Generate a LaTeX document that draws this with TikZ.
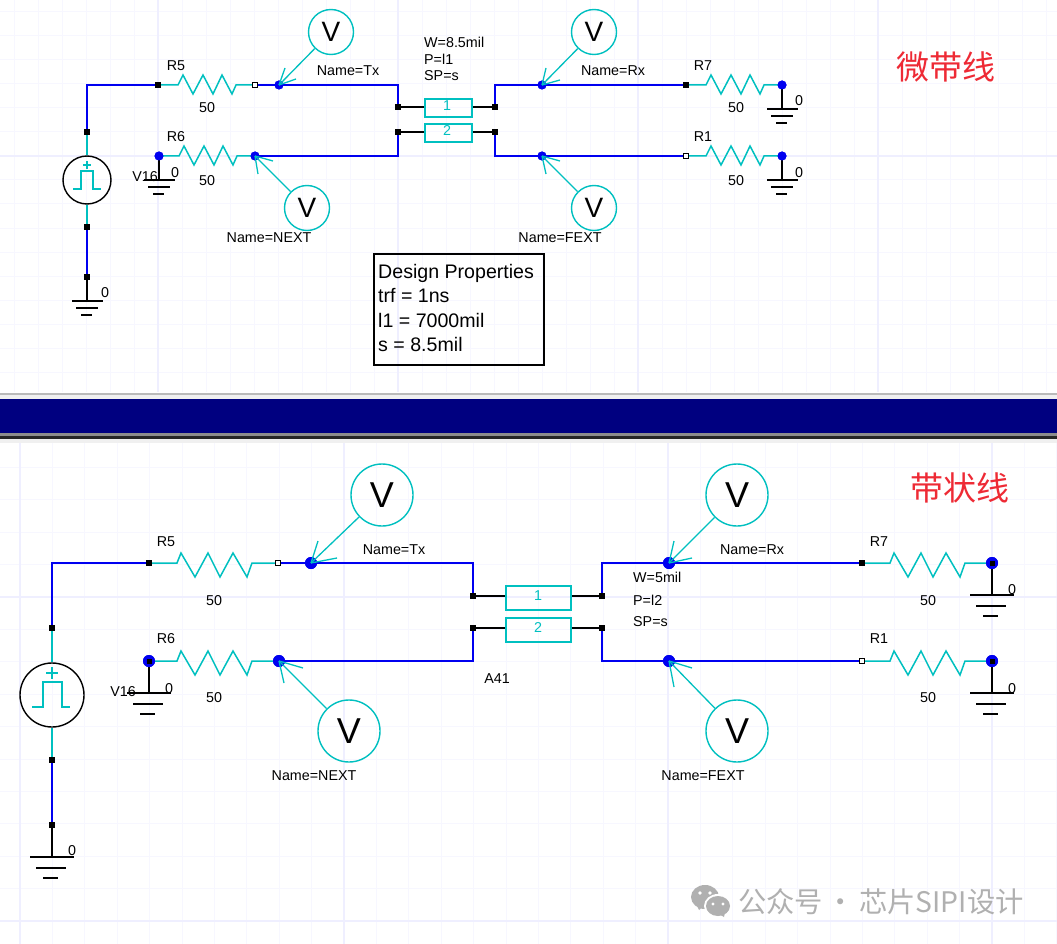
\documentclass[tikz,border=0pt]{standalone}
\usepackage{fontspec}
\setmainfont{Liberation Sans}
\newfontfamily\cjk{Noto Sans CJK SC}
\definecolor{gmin}{HTML}{F7F7FF}
\definecolor{gmaj}{HTML}{EFEFFF}
\definecolor{cyn}{HTML}{00C0C0}
\definecolor{wblue}{HTML}{0000F0}
\definecolor{navybar}{HTML}{000080}
\definecolor{redtxt}{HTML}{EE2A35}
\definecolor{wm}{HTML}{B0B0B0}
\tikzset{
  x=1pt,y=-1pt,
  bw/.style={draw=wblue,line width=2pt,line join=miter},
  cw/.style={draw=cyn,line width=1.5pt,line join=miter},
  kw/.style={draw=black,line width=1.5pt},
  pinb/.style={rectangle,fill=black,inner sep=0pt,minimum size=6pt},
  pinw/.style={rectangle,fill=white,draw=black,line width=1.2pt,inner sep=0pt,minimum size=6pt},
  dotb/.style={circle,fill=wblue,inner sep=0pt,minimum size=9pt},
  dotB/.style={circle,fill=wblue,inner sep=0pt,minimum size=12pt},
  vt/.style={circle,draw=cyn,line width=1.4pt,inner sep=0pt,minimum size=45pt,font=\fontsize{28}{30}\selectfont},
  vB/.style={circle,draw=cyn,line width=1.4pt,inner sep=0pt,minimum size=62pt,font=\fontsize{36}{38}\selectfont},
  src/.style={circle,draw=black,line width=1.4pt,inner sep=0pt},
  lab/.style={inner sep=0pt,font=\fontsize{14.3}{15}\selectfont},
  labl/.style={lab,anchor=west},
  numb/.style={inner sep=0pt,text=cyn,font=\fontsize{14.3}{15}\selectfont},
  tl/.style={rectangle,draw=cyn,line width=2pt,inner sep=0pt},
  red/.style={inner sep=0pt,text=redtxt,font=\cjk\fontsize{33}{35}\selectfont},
}
\newcommand{\zigT}[2]{\draw[cw] (#1.center) -- ++(20,0) -- ++(5,-10) -- ++(10,19) -- ++(10,-19) -- ++(10,19) -- ++(9,-19) -- ++(10,19) -- ++(4,-9) -- (#2.center);}
\newcommand{\zigB}[2]{\draw[cw] (#1.center) -- ++(28,0) -- ++(4,-10) -- ++(14,24) -- ++(13,-24) -- ++(12,24) -- ++(13,-24) -- ++(14,24) -- ++(5,-14) -- (#2.center);}
\newcommand{\gndT}[1]{\draw[kw] (#1.center) -- ++(0,24) ++(-15,0) -- ++(31,0) ++(-27,7) -- ++(22,0) ++(-17,7) -- ++(11,0);}
\newcommand{\gndB}[1]{\draw[kw] (#1.center) -- ++(0,32) ++(-22,0) -- ++(44,0) ++(-38,11) -- ++(30,0) ++(-23,10) -- ++(15,0);}
\newcommand{\barbs}[5]{\draw[cyn,line width=1.3pt] (#1.center) -- ++(#2,#3) (#1.center) -- ++(#4,#5);}
\newcommand{\stub}[2]{\draw[kw] (#1.center) -- (#1.center -| #2);}
\begin{document}
\begin{tikzpicture}
\useasboundingbox (0,0) rectangle (1057,944);
\fill[white] (0,0) rectangle (1057,944);
% grids
\foreach \i in {0,...,43}{\draw[gmin,line width=1pt] ({14+24*\i},0) -- ({14+24*\i},392);}
\foreach \i in {0,...,15}{\draw[gmin,line width=1pt] (0,{12+24*\i}) -- (1057,{12+24*\i});}
\foreach \xx in {158,398,638,878}{\draw[gmaj,line width=1.2pt] (\xx,0) -- (\xx,392);}
\draw[gmaj,line width=1.2pt] (0,156) -- (1057,156);
\foreach \i in {0,...,32}{\draw[gmin,line width=1pt] ({20+32.4*\i},443) -- ({20+32.4*\i},944);}
\foreach \i in {-4,...,10}{\draw[gmin,line width=1pt] (0,{597+32.4*\i}) -- (1057,{597+32.4*\i});}
\foreach \xx in {20,344,668,992}{\draw[gmaj,line width=1.2pt] (\xx,443) -- (\xx,944);}
\foreach \yy in {597,921}{\draw[gmaj,line width=1.2pt] (0,\yy) -- (1057,\yy);}
% divider
\fill[black!27] (0,393) rectangle (1057,395);
\fill[black!6] (0,395) rectangle (1057,399);
\fill[navybar] (0,399) rectangle (1057,433);
\fill[black!45] (0,433) rectangle (1057,436);
\fill[black!85] (0,436) rectangle (1057,439);
\fill[black!6] (0,439) rectangle (1057,443);

% ===== top circuit =====
\node[src,minimum size=48pt] (tS) at (87,180) {};
\node[pinb] (tSa) at (87,132) {};
\node[pinb] (tSb) at (87,227) {};
\node[pinb] (tG) at (87,277) {};
\coordinate (tCa) at (398,85);
\node[pinb] (tR5a) at (158,85) {};
\node[pinw,minimum size=5pt] (tR5b) at (255,85) {};
\node[dotb] (tTx) at (279,85) {};
\node[pinb] (tL1a) at (398,107) {};
\node[pinb] (tL1b) at (495,107) {};
\node[pinb] (tL2a) at (398,132) {};
\node[pinb] (tL2b) at (495,132) {};
\node[dotb] (tRx) at (542,85) {};
\node[pinb] (tR7a) at (686,85) {};
\node[dotb] (tR7b) at (782,85) {};
\node[dotb] (tR6a) at (159,156) {};
\node[dotb] (tR6b) at (255,156) {};
\node[dotb] (tFx) at (542,156) {};
\node[pinw,minimum size=5pt] (tR1a) at (686,156) {};
\node[dotb] (tR1b) at (782,156) {};
\node[tl,minimum width=47pt,minimum height=18pt,anchor=north west] (tB1) at (423.5,98) {};
\node[tl,minimum width=47pt,minimum height=18pt,anchor=north west] (tB2) at (423.5,123) {};
\node[numb] (tn1) at (447,106) {1};
\node[numb] (tn2) at (447,131) {2};
\draw[cw] (tSa.center) -- (tS);
\draw[cw] (tSb.center) -- (tS);
\draw[bw] (tSa.center) |- (tR5a.center);
\draw[bw] (tSb.center) -- (tG.center);
\zigT{tR5a}{tR5b}
\draw[bw] (tR5b.center) -- (tCa) -- (tL1a.center);
\zigT{tR6a}{tR6b}
\draw[bw] (tR6b.center) -| (tL2a.center);
\draw[bw] (tL1b.center) |- (tR7a.center);
\draw[bw] (tL2b.center) |- (tR1a.center);
\zigT{tR7a}{tR7b}
\zigT{tR1a}{tR1b}
\stub{tL1a}{tB1.west}
\stub{tL1b}{tB1.east}
\stub{tL2a}{tB2.west}
\stub{tL2b}{tB2.east}
\gndT{tG}
\gndT{tR6a}
\gndT{tR7b}
\gndT{tR1b}
\node[pinb] at (tSa) {};\node[pinb] at (tSb) {};\node[pinb] at (tG) {};
\node[pinb] at (tL1a) {};\node[pinb] at (tL1b) {};\node[pinb] at (tL2a) {};\node[pinb] at (tL2b) {};
\node[pinb] at (tR5a) {};\node[pinw,minimum size=5pt] at (tR5b) {};
\node[pinb] at (tR7a) {};\node[pinw,minimum size=5pt] at (tR1a) {};
\node[dotb] at (tR6a) {};\node[dotb] at (tR6b) {};\node[dotb] at (tTx) {};
\node[dotb] at (tRx) {};\node[dotb] at (tFx) {};\node[dotb] at (tR7b) {};\node[dotb] at (tR1b) {};
\draw[cyn,line width=1.4pt] plot coordinates {(73,189) (81,189) (81,171) (93,171) (93,189) (101,189)};
\draw[cyn,line width=1.4pt] (83,165) -- (91,165) (87,161) -- (87,169);
% top probes
\node[vt] (tV1) at (331,32) {V};
\node[vt] (tV2) at (307,208) {V};
\node[vt] (tV3) at (594,32) {V};
\node[vt] (tV4) at (594,208) {V};
\draw[cyn,line width=1.3pt] (tV1) -- (tTx.center);
\draw[cyn,line width=1.3pt] (tV2) -- (tR6b.center);
\draw[cyn,line width=1.3pt] (tV3) -- (tRx.center);
\draw[cyn,line width=1.3pt] (tV4) -- (tFx.center);
\barbs{tTx}{6}{-17}{17}{-6}
\barbs{tR6b}{3}{18}{18}{5}
\barbs{tRx}{4}{-17}{18}{-5}
\barbs{tFx}{4}{18}{18}{5}
% top labels
\node[lab] (tl1) at (176,66) {R5};
\node[lab] (tl2) at (207,108) {50};
\node[lab] (tl3) at (176,137) {R6};
\node[lab] (tl4) at (207,181) {50};
\node[lab] (tl5) at (348,71) {Name=Tx};
\node[lab] (tl6) at (269,238) {Name=NEXT};
\node[lab] (tl7) at (613,71) {Name=Rx};
\node[lab] (tl8) at (560,238) {Name=FEXT};
\node[lab] (tl9) at (703,66) {R7};
\node[lab] (tl10) at (736,108) {50};
\node[lab] (tl11) at (703,137) {R1};
\node[lab] (tl12) at (736,181) {50};
\node[labl] (tl13) at (424,42) {W=8.5mil};
\node[labl] (tl14) at (424,59) {P=l1};
\node[labl] (tl15) at (424,76) {SP=s};
\node[lab] (tl16) at (145,177) {V16};
\node[lab] (tl17) at (105,293) {0};
\node[lab] (tl18) at (175,173) {0};
\node[lab] (tl19) at (799,101) {0};
\node[lab] (tl20) at (799,173) {0};
\node[draw=black,line width=2pt,anchor=north west,minimum width=170pt,minimum height=111pt,inner sep=0pt] (tD) at (372.5,252.5) {};
\node[inner sep=0pt,anchor=west,font=\fontsize{19.6}{24.6}\selectfont,align=left] (tDt) at (378,308) {Design Properties\\trf = 1ns\\l1 = 7000mil\\s = 8.5mil};
\node[red] (tTitle) at (946,67) {微带线};

% ===== bottom circuit =====
\node[src,minimum size=64pt] (bS) at (52,695) {};
\node[pinb] (bSa) at (52,628) {};
\node[pinb] (bSb) at (52,760) {};
\node[pinb] (bG) at (52,825) {};
\coordinate (bCa) at (473,563);
\node[pinb] (bR5a) at (149,563) {};
\node[pinw,minimum size=5pt] (bR5b) at (278,563) {};
\node[dotB] (bTx) at (311,563) {};
\node[pinb] (bL1a) at (473,596) {};
\node[pinb] (bL1b) at (602,596) {};
\node[pinb] (bL2a) at (473,628) {};
\node[pinb] (bL2b) at (602,628) {};
\node[dotB] (bRx) at (669,563) {};
\node[pinb] (bR7a) at (862,563) {};
\node[dotB] (bR7b) at (992,563) {};
\node[dotB] (bR6a) at (149,661) {};
\node[dotB] (bR6b) at (279,661) {};
\node[dotB] (bFx) at (669,661) {};
\node[pinw,minimum size=5pt] (bR1a) at (862,661) {};
\node[dotB] (bR1b) at (992,661) {};
\node[tl,minimum width=65pt,minimum height=24pt,anchor=north west] (bB1) at (505,585) {};
\node[tl,minimum width=65pt,minimum height=24pt,anchor=north west] (bB2) at (505,617) {};
\node[numb] (bn1) at (538,596) {1};
\node[numb] (bn2) at (538,628) {2};
\draw[cw] (bSa.center) -- (bS);
\draw[cw] (bSb.center) -- (bS);
\draw[bw] (bSa.center) |- (bR5a.center);
\draw[bw] (bSb.center) -- (bG.center);
\zigB{bR5a}{bR5b}
\draw[bw] (bR5b.center) -- (bCa) -- (bL1a.center);
\zigB{bR6a}{bR6b}
\draw[bw] (bR6b.center) -| (bL2a.center);
\draw[bw] (bL1b.center) |- (bR7a.center);
\draw[bw] (bL2b.center) |- (bR1a.center);
\zigB{bR7a}{bR7b}
\zigB{bR1a}{bR1b}
\stub{bL1a}{bB1.west}
\stub{bL1b}{bB1.east}
\stub{bL2a}{bB2.west}
\stub{bL2b}{bB2.east}
\gndB{bG}
\gndB{bR6a}
\gndB{bR7b}
\gndB{bR1b}
\node[pinb] at (bSa) {};\node[pinb] at (bSb) {};\node[pinb] at (bG) {};
\node[pinb] at (bL1a) {};\node[pinb] at (bL1b) {};\node[pinb] at (bL2a) {};\node[pinb] at (bL2b) {};
\node[pinb] at (bR5a) {};\node[pinw,minimum size=5pt] at (bR5b) {};
\node[pinb] at (bR7a) {};\node[pinw,minimum size=5pt] at (bR1a) {};
\node[dotB] at (bR6a) {};\node[dotB] at (bR6b) {};\node[dotB] at (bTx) {};
\node[dotB] at (bRx) {};\node[dotB] at (bFx) {};\node[dotB] at (bR7b) {};\node[dotB] at (bR1b) {};
\node[pinb,minimum size=5pt] at (bR6a) {};
\node[pinb,minimum size=5pt] at (bR7b) {};
\node[pinb,minimum size=5pt] at (bR1b) {};
\draw[cyn,line width=1.5pt] plot coordinates {(32,707) (43,707) (43,682) (62,682) (62,707) (70,707)};
\draw[cyn,line width=1.5pt] (46,673) -- (58,673) (52,667) -- (52,679);
% bottom probes
\node[vB] (bV1) at (382,495) {V};
\node[vB] (bV2) at (349,731) {V};
\node[vB] (bV3) at (737,495) {V};
\node[vB] (bV4) at (737,731) {V};
\draw[cyn,line width=1.3pt] (bV1) -- (bTx.center);
\draw[cyn,line width=1.3pt] (bV2) -- (bR6b.center);
\draw[cyn,line width=1.3pt] (bV3) -- (bRx.center);
\draw[cyn,line width=1.3pt] (bV4) -- (bFx.center);
\barbs{bTx}{7}{-22}{26}{-5}
\barbs{bR6b}{5}{22}{24}{7}
\barbs{bRx}{5}{-22}{23}{-5}
\barbs{bFx}{5}{26}{23}{7}
% bottom labels
\node[lab] (bl1) at (166,542) {R5};
\node[lab] (bl2) at (214,601) {50};
\node[lab] (bl3) at (166,639) {R6};
\node[lab] (bl4) at (214,698) {50};
\node[lab] (bl5) at (394,550) {Name=Tx};
\node[lab] (bl6) at (314,776) {Name=NEXT};
\node[lab] (bl7) at (752,550) {Name=Rx};
\node[lab] (bl8) at (703,776) {Name=FEXT};
\node[lab] (bl9) at (879,542) {R7};
\node[lab] (bl10) at (928,601) {50};
\node[lab] (bl11) at (879,639) {R1};
\node[lab] (bl12) at (928,698) {50};
\node[labl] (bl13) at (633,577) {W=5mil};
\node[labl] (bl14) at (633,600) {P=l2};
\node[labl] (bl15) at (633,622) {SP=s};
\node[lab] (bl16) at (123,692) {V16};
\node[lab] (bl17) at (72,851) {0};
\node[lab] (bl18) at (169,689) {0};
\node[lab] (bl19) at (1012,590) {0};
\node[lab] (bl20) at (1012,689) {0};
\node[lab] (bl21) at (497,679) {A41};
\node[red] (bTitle) at (960,488) {带状线};

% watermark
\fill[wm] (705,897) ellipse (14 and 12);
\fill[wm] (699,910) -- (697,906) -- (703,906) -- cycle;
\fill[white] (700,893) circle (1.9) (710,893) circle (1.9);
\fill[white] (718,906) ellipse (14 and 12);
\fill[wm] (718,906) ellipse (12 and 10);
\fill[wm] (724,917) -- (725,912) -- (719,914) -- cycle;
\fill[white] (713,904) circle (1.7) (723,904) circle (1.7);
\node[inner sep=0pt,anchor=west,text=wm,font=\cjk\fontsize{28.3}{30}\selectfont] (wmt) at (738,902) {公众号\hspace{-3pt} · \hspace{-2pt}芯片SIPI设计};
\end{tikzpicture}
\end{document}
